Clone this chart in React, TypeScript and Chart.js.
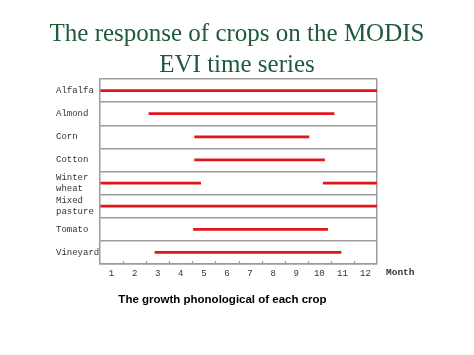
import React, { useEffect, useRef } from "react";
import { Chart, registerables } from "chart.js";

Chart.register(...registerables);

const crops: (string | string[])[] = [
  "Alfalfa",
  "Almond",
  "Corn",
  "Cotton",
  ["Winter", "wheat"],
  ["Mixed", "pasture"],
  "Tomato",
  "Vineyard",
];
const startMonth = [0, 2.12, 4.1, 4.1, 0, 0, 4.05, 2.38];
const endMonth = [12, 10.14, 9.05, 9.73, 4.36, 12, 9.86, 10.44];
const secondStart: (number | null)[] = [null, null, null, null, 9.67, null, null, null];
const secondEnd: (number | null)[] = [null, null, null, null, 12, null, null, null];
const monthLabels = ["1", "2", "3", "4", "5", "6", "7", "8", "9", "10", "11", "12"];

const RED = "#e0161c";
const GRAY = "#9c9c9c";

const innerTicks = {
  id: "innerTicks",
  afterDraw(chart: any) {
    const x = chart.scales.x;
    const ctx = chart.ctx;
    const bottom = chart.chartArea.bottom;
    ctx.save();
    ctx.strokeStyle = GRAY;
    ctx.lineWidth = 1.2;
    for (let i = 1; i < monthLabels.length; i++) {
      const px = Math.round(x.getPixelForValue(i)) + 0.5;
      ctx.beginPath();
      ctx.moveTo(px, bottom);
      ctx.lineTo(px, bottom - 3);
      ctx.stroke();
    }
    ctx.restore();
  },
};

export default function App() {
  const ref = useRef<HTMLCanvasElement | null>(null);
  useEffect(() => {
    if (!ref.current) return;
    const chart = new Chart(ref.current, {
      type: "bar",
      data: {
        labels: crops as any,
        datasets: [
          {
            data: crops.map((_, i) => [startMonth[i], endMonth[i]]) as any,
            backgroundColor: RED,
            barThickness: 2.2,
            grouped: false,
          } as any,
          {
            data: crops.map((_, i) =>
              secondStart[i] === null ? null : [secondStart[i], secondEnd[i]]
            ) as any,
            backgroundColor: RED,
            barThickness: 2.2,
            grouped: false,
          } as any,
        ],
      },
      options: {
        indexAxis: "y",
        animation: false,
        responsive: false,
        layout: { padding: { left: 56, right: 97, top: 79, bottom: 71 } },
        plugins: { legend: { display: false }, tooltip: { enabled: false } },
        scales: {
          x: {
            type: "linear",
            min: 0,
            max: 12,
            afterBuildTicks: (axis: any) => {
              const t: any[] = [];
              for (let v = 0; v <= 24; v++) t.push({ value: v / 2 });
              axis.ticks = t;
            },
            afterFit: (scale: any) => {
              scale.height = 20;
            },
            ticks: {
              autoSkip: false,
              maxRotation: 0,
              padding: 4,
              color: "#333",
              font: { family: "Liberation Mono", size: 9 },
              callback: (v: any) =>
                Number.isInteger(v) ? "" : monthLabels[Math.floor(v)],
            },
            grid: {
              drawTicks: false,
              lineWidth: 1.5,
              color: (ctx: any) =>
                ctx.tick && ctx.tick.value === 12 ? GRAY : "rgba(0,0,0,0)",
            },
            border: { display: true, color: GRAY, width: 1.5 },
          },
          y: {
            type: "category",
            afterFit: (scale: any) => {
              scale.width = 44;
            },
            ticks: {
              autoSkip: false,
              crossAlign: "far",
              color: "#333",
              font: { family: "Liberation Mono", size: 9 },
            },
            grid: { offset: true, drawTicks: false, color: GRAY, lineWidth: 1.5 },
            border: { display: true, color: GRAY, width: 1.5 },
          },
        },
      } as any,
      plugins: [innerTicks],
    });
    return () => chart.destroy();
  }, []);

  return (
    <div
      style={{
        position: "fixed",
        left: 0,
        top: 0,
        width: 474,
        height: 355,
        background: "#fff",
      }}
    >
      <canvas ref={ref} width={474} height={355} style={{ position: "absolute", left: 0, top: 0 }} />
      <div
        style={{
          position: "absolute",
          left: 0,
          top: 17,
          width: 474,
          textAlign: "center",
          fontFamily: "'Liberation Serif', serif",
          fontSize: 25,
          lineHeight: "31px",
          color: "#1f5b3a",
        }}
      >
        The response of crops on the MODIS
        <br />
        EVI time series
      </div>
      <div
        style={{
          position: "absolute",
          left: 386,
          top: 267,
          fontFamily: "'Liberation Mono', monospace",
          fontSize: 9.5,
          fontWeight: "bold",
          color: "#333",
        }}
      >
        Month
      </div>
      <div
        style={{
          position: "absolute",
          left: 0,
          width: 445,
          top: 293,
          textAlign: "center",
          fontFamily: "'Liberation Sans', Arial, sans-serif",
          fontSize: 11.5,
          fontWeight: "bold",
          color: "#000",
        }}
      >
        The growth phonological of each crop
      </div>
    </div>
  );
}
